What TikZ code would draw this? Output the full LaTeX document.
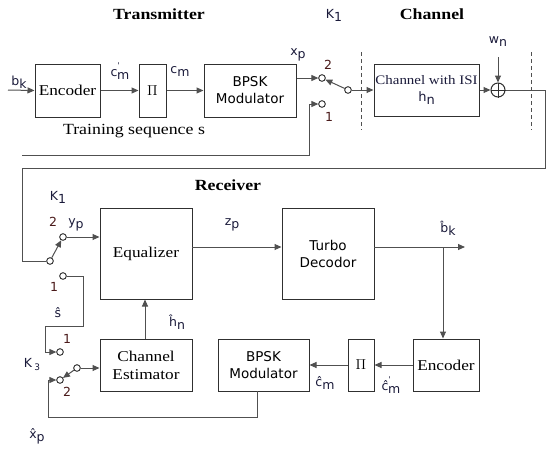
\documentclass[tikz,border=0pt]{standalone}
\usepackage{fontspec}
\setmainfont[FakeStretch=1.15]{Liberation Serif}
\newfontfamily\dvs{DejaVu Sans}
\usetikzlibrary{arrows.meta}
\definecolor{ln}{HTML}{505050}
\definecolor{bx}{HTML}{303030}
\definecolor{num}{HTML}{4A1A1A}
\definecolor{lbl}{HTML}{1A1A3A}
\tikzset{
  box/.style={draw=bx,line width=1pt,inner sep=0pt,align=center,font=\fontsize{15}{18}\selectfont},
  sbox/.style={draw=bx,line width=1pt,inner sep=0pt,align=center,font=\dvs\fontsize{13.5}{17}\selectfont},
  term/.style={circle,draw=bx,fill=white,line width=0.8pt,inner sep=0pt,minimum size=6.5pt},
  con/.style={draw=ln,line width=1pt},
  arr/.style={con,-{Triangle[length=7pt,width=6pt]}},
  lab/.style={font=\dvs\fontsize{12.5}{12.5}\selectfont,text=lbl,inner sep=0pt},
  nlab/.style={font=\dvs\fontsize{12.5}{12.5}\selectfont,text=num,inner sep=0pt},
  ttl/.style={font=\bfseries\fontsize{15.5}{15.5}\selectfont,inner sep=0pt},
  dsh/.style={draw=ln,line width=1pt,dash pattern=on 4pt off 3pt}
}
\newcommand{\sbx}[2]{#1\raisebox{-3pt}{#2}}
\newcommand{\prm}[2]{#1\raisebox{8pt}{\fontsize{8}{8}\selectfont'}\kern-2.5pt\raisebox{-3pt}{#2}}
\begin{document}
\begin{tikzpicture}[x=1pt,y=-1pt]
\useasboundingbox (0,0) rectangle (550,451);
% titles
\node[ttl] (tt) at (159,14) {Transmitter};
\node[ttl] (tc) at (432,14) {Channel};
\node[ttl] (tr) at (228,185) {Receiver};
% transmitter boxes
\node[box,minimum width=65pt,minimum height=53pt] (enc1) at (67.5,90.5) {Encoder};
\node[box,minimum width=27pt,minimum height=53pt] (pi1) at (152.5,90.5) {$\Pi$};
\node[sbox,minimum width=92pt,minimum height=53pt] (bpsk1) at (250,90.5) {BPSK\\Modulator};
\node[box,minimum width=105pt,minimum height=52pt,text=lbl,font=\fontsize{13}{17}\selectfont] (chan) at (426.5,90) {Channel with ISI\\{\dvs\fontsize{13}{13}\selectfont\sbx{h}{n}}};
\node[circle,draw=bx,line width=1pt,minimum size=14pt,inner sep=0pt] (sum) at (498,90) {};
\draw[bx,line width=0.8pt] (sum.north) -- (sum.south) (sum.west) -- (sum.east);
% dashed lines
\draw[dsh] (361,52) -- (361,130);
\draw[dsh] (531,52) -- (531,130);
% coordinates
\coordinate (bkin) at (8,90);
\coordinate (wntop) at (498,57);
\coordinate (tsl) at (22,155);
\coordinate (tsr) at (309,155);
\coordinate (tsu) at (309,104);
\coordinate (outr) at (545,90);
\coordinate (outd) at (545,168);
\coordinate (fbl) at (22,168);
\coordinate (fbd) at (22,261);
% receiver boxes
\node[box,minimum width=92pt,minimum height=91pt] (eq) at (146,253.5) {Equalizer};
\node[sbox,minimum width=92pt,minimum height=91pt] (td) at (328,253.5) {Turbo\\Decodor};
\node[box,minimum width=66pt,minimum height=52pt] (enc2) at (446,365) {Encoder};
\node[box,minimum width=26pt,minimum height=52pt] (pi2) at (361,365) {$\Pi$};
\node[sbox,minimum width=91pt,minimum height=52pt] (bpsk2) at (263.5,365) {BPSK\\Modulator};
\node[box,minimum width=92pt,minimum height=52pt] (ce) at (146,365) {Channel\\Estimator};
% connectors transmitter
\draw[arr] (bkin) -- (enc1.west);
\draw[arr] (enc1.east) -- (pi1.west);
\draw[arr] (pi1.east) -- (bpsk1.west);
\node[term] (t2) at (322,78) {};
\node[term] (t1) at (322,104) {};
\node[term] (tp) at (348,90) {};
\draw[arr] (bpsk1.east |- t2) -- (t2);
\draw[con] (tsl) -- (tsr) -- (tsu);
\draw[arr] (tsu) -- (t1);
\draw[arr] (tp) -- (t2);
\draw[arr] (tp) -- (chan.west |- tp);
\draw[arr] (chan.east |- sum) -- (sum.west);
\draw[arr] (wntop) -- (sum.north);
\draw[con] (sum.east) -- (outr) -- (outd) -- (fbl) -- (fbd);
% receiver switch K1
\node[term] (r2) at (63,237) {};
\node[term] (r1) at (63,276) {};
\node[term] (rp) at (50,261) {};
\draw[con] (fbd) -- (rp);
\draw[arr] (rp) -- (r2);
\draw[arr] (r2) -- (eq.west |- r2);
\coordinate (eqo) at (192,247);
\draw[arr] (eqo) -- (td.west |- eqo);
\coordinate (tdo) at (374,247);
\coordinate (bko) at (465,247);
\coordinate (brt) at (443,247);
\draw[arr] (tdo) -- (bko);
\draw[arr] (brt) -- (brt |- enc2.north);
\draw[arr] (enc2.west) -- (pi2.east);
\draw[arr] (pi2.west) -- (bpsk2.east);
\draw[arr] (ce.north -| 145,0) -- (eq.south -| 145,0);
% K3
\node[term] (k1) at (60,352) {};
\node[term] (kp) at (77,368) {};
\node[term] (k2) at (60,380) {};
\coordinate (a1) at (83,276);
\coordinate (a2) at (83,326);
\coordinate (a3) at (45,326);
\coordinate (a4) at (45,352);
\draw[con] (r1) -- (a1) -- (a2) -- (a3) -- (a4);
\draw[arr] (a4) -- (k1);
\draw[arr] (kp) -- (ce.west |- kp);
\draw[arr] (kp) -- (k2);
\coordinate (b1) at (257,391);
\coordinate (b2) at (257,417);
\coordinate (b3) at (48,417);
\coordinate (b4) at (48,380);
\draw[con] (b1) -- (b2) -- (b3) -- (b4);
\draw[arr] (b4) -- (k2);
\node[term] at (t2) {};
\node[term] at (t1) {};
\node[term] at (tp) {};
\node[term] at (r2) {};
\node[term] at (r1) {};
\node[term] at (rp) {};
\node[term] at (k1) {};
\node[term] at (kp) {};
\node[term] at (k2) {};
% labels
\node[lab] (lbk) at (19,82) {\sbx{b}{k}};
\node[lab] (lcm1) at (120,71) {\prm{c}{m}};
\node[lab] (lcm) at (180,71) {\sbx{c}{m}};
\node[font=\fontsize{15.5}{15.5}\selectfont,inner sep=0pt] (lts) at (134,131) {Training sequence s};
\node[lab] (lxp) at (298,55) {\sbx{x}{p}};
\node[lab] (lk1t) at (334,15) {\sbx{K}{1}};
\node[nlab] (l2t) at (328,65) {2};
\node[nlab] (l1t) at (329,117) {1};
\node[lab] (lwn) at (498,42) {\sbx{w}{n}};
\node[lab] (lk1r) at (58,197) {\sbx{K}{1}};
\node[nlab] (l2r) at (53,222) {2};
\node[lab] (lyp) at (76,225) {\sbx{y}{p}};
\node[nlab] (l1r) at (54,287) {1};
\node[lab] (lzp) at (232,225) {\sbx{z}{p}};
\node[lab] (lbh) at (448,228) {\sbx{\^{b}}{k}};
\node[lab] (lhh) at (177,322) {\sbx{ĥ}{n}};
\node[lab] (lsh) at (58,313) {ŝ};
\node[nlab] (l1k) at (67,339) {1};
\node[lab] (lk3) at (32,365) {K\,\raisebox{-3pt}{\fontsize{9}{9}\selectfont 3}};
\node[nlab] (l2k) at (67,392) {2};
\node[lab] (lxh) at (37,436) {\sbx{\^{x}}{p}};
\node[lab] (lch) at (325,383) {\sbx{ĉ}{m}};
\node[lab] (lch1) at (391,385) {\prm{ĉ}{m}};
\end{tikzpicture}
\end{document}
